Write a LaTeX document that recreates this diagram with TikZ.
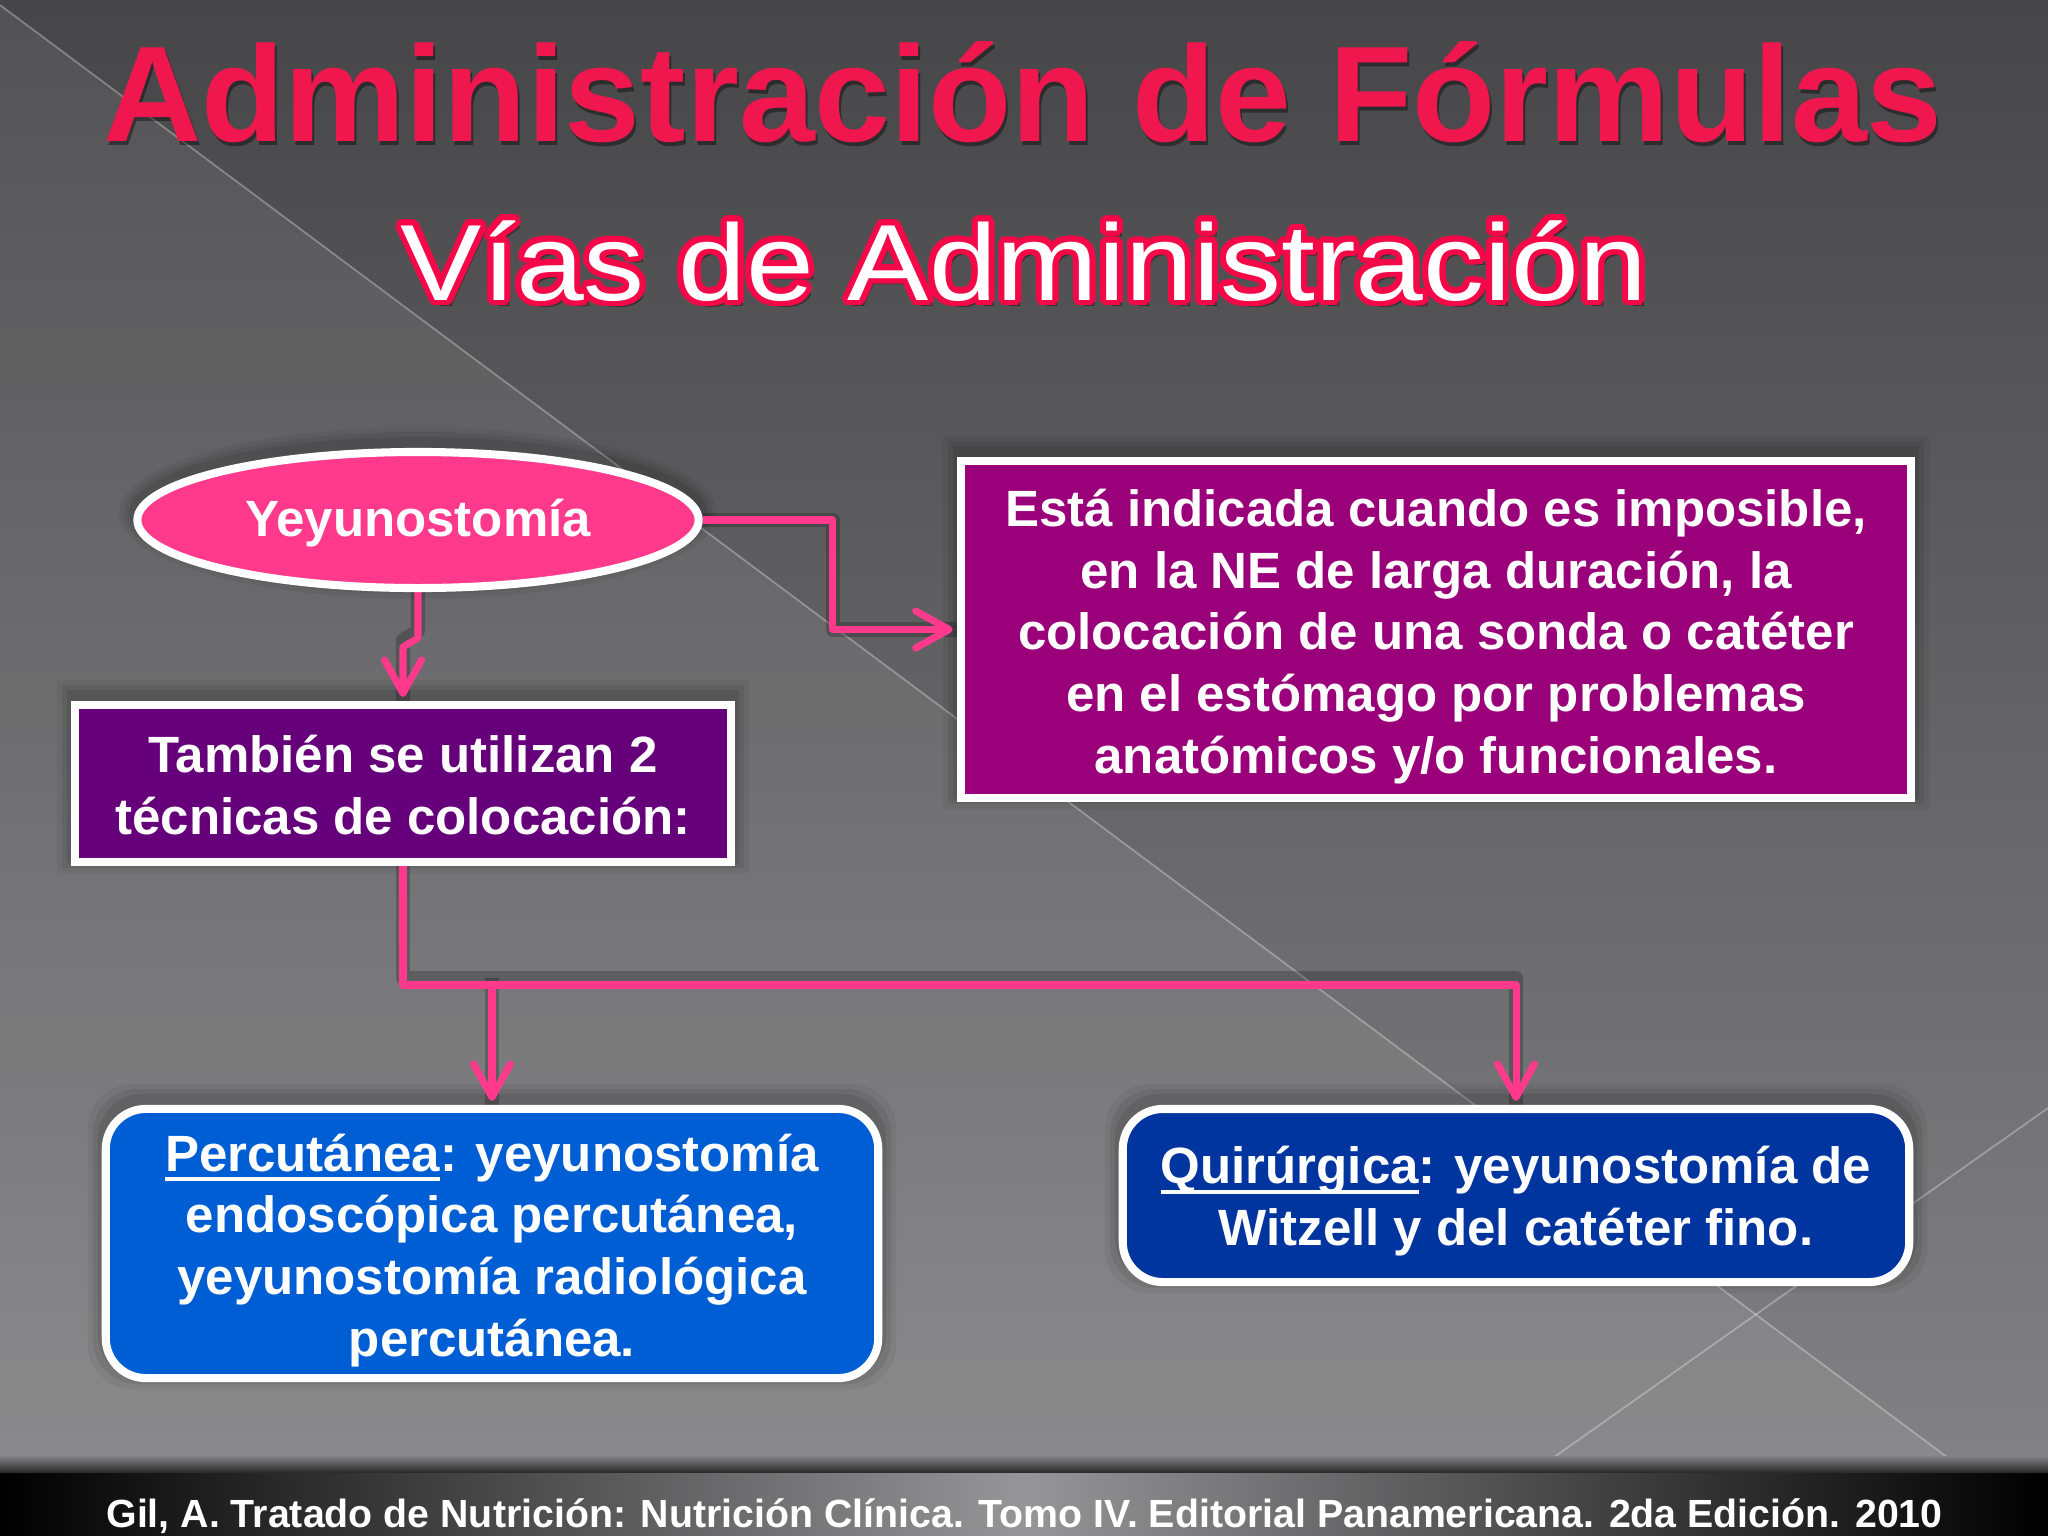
\documentclass[tikz,border=0pt]{standalone}
\usepackage{fontspec}
\setmainfont{Liberation Sans}
\usetikzlibrary{arrows.meta,shapes.geometric,calc}
\pgfdeclarelayer{bg}
\pgfdeclarelayer{mid}
\pgfsetlayers{bg,mid,main}
\definecolor{crim}{RGB}{240,22,78}
\definecolor{subred}{RGB}{245,8,72}
\definecolor{pinkc}{RGB}{255,58,140}
\definecolor{purpA}{RGB}{102,0,122}
\definecolor{magA}{RGB}{153,0,122}
\definecolor{blueA}{RGB}{0,94,212}
\definecolor{blueB}{RGB}{0,52,158}
\definecolor{bgtop}{RGB}{70,70,72}
\definecolor{bgbot}{RGB}{130,130,132}
\definecolor{footmid}{RGB}{150,150,152}
\newcommand\boxfont{\fontsize{14.5pt}{17.6pt}\selectfont\bfseries}
\newcommand\myul[1]{\setbox0\hbox{#1}\rlap{\rule[-0.2em]{\wd0}{0.08em}}\box0}
\newcommand\lowered[2]{\raisebox{-#1}[\height][\depth]{\begin{tabular}{@{}c@{}}#2\end{tabular}}}
\newcommand\subtext{\scalebox{1.125}[1]{\fontsize{30.8pt}{36pt}\selectfont V\'ias de Administraci\'on}}
\tikzset{
  conn/.style={draw=pinkc, line width=2pt, line join=round},
  arr/.style={conn, shorten >=0.04cm, -{Straight Barb[length=9.5pt,width=10.5pt,round]}},
  connshadow/.style={draw=black, opacity=0.22, line width=4pt, line join=round},
  whiteline/.style={draw=white, line width=2.3pt},
  sq/.style={rectangle, whiteline, inner sep=0pt, align=center, text=white, font=\boxfont},
  rbox/.style={sq, rounded corners=0.4cm},
}
\begin{document}
\begin{tikzpicture}[x=0.01cm, y=-0.01cm]
\useasboundingbox (0,0) rectangle (2048,1536);

% ---------- nodes ----------
\node[ellipse, whiteline, fill=pinkc, minimum width=5.61cm, minimum height=1.36cm,
      inner sep=0pt, text=white, font=\boxfont] (e) at (418,520) {\lowered{0.04cm}{Yeyunostom\'ia}};
\node[sq, fill=purpA, minimum width=6.56cm, minimum height=1.57cm] (tb) at (403,783.5)
  {\lowered{0.075cm}{Tambi\'en se utilizan 2\\t\'ecnicas de colocaci\'on:}};
\node[sq, fill=magA, minimum width=9.5cm, minimum height=3.37cm] (info) at (1436,629.5)
  {\lowered{0.08cm}{Est\'a indicada cuando es imposible,\\en la NE de larga duraci\'on, la\\colocaci\'on de una sonda o cat\'eter\\en el est\'omago por problemas\\anat\'omicos y/o funcionales.}};
\node[rbox, fill=blueA, minimum width=7.72cm, minimum height=2.69cm] (perc) at (492,1243.5)
  {\lowered{0.08cm}{\myul{Percut\'anea}: yeyunostom\'ia\\endosc\'opica percut\'anea,\\yeyunostom\'ia radiol\'ogica\\percut\'anea.}};
\node[rbox, fill=blueB, minimum width=7.86cm, minimum height=1.73cm] (quir) at (1516,1195.5)
  {\lowered{0.07cm}{\myul{Quir\'urgica}: yeyunostom\'ia de\\Witzell y del cat\'eter fino.}};

% ---------- titles ----------
\node[anchor=base, text=black, opacity=0.4] (titleshadow) at (1025,145)
  {\resizebox{18.38cm}{!}{\bfseries Administraci\'on de F\'ormulas}};
\node[anchor=base, text=crim] (title) at (1023,141)
  {\resizebox{18.38cm}{!}{\bfseries Administraci\'on de F\'ormulas}};
\node[anchor=base, text=black, opacity=0.35] (subshadow) at (1029,306) {\subtext};
\foreach \a in {0,20,...,340}
  \node[anchor=base, text=subred] at ($(1024,300)+(\a:6)$) {\subtext};
\node[anchor=base, text=white] (sub) at (1024,300) {\subtext};

% ---------- footer text ----------
\node[anchor=base, text=white] (foot) at (1024.5,1527)
  {\resizebox{18.35cm}{!}{\bfseries Gil, A. Tratado de Nutrici\'on: Nutrici\'on Cl\'inica. Tomo IV. Editorial Panamericana. 2da Edici\'on. 2010}};

% ---------- connectors and shadows ----------
\begin{pgfonlayer}{mid}
  \begin{scope}[shift={(-4,-7)}]
    \draw[connshadow] (e.east) -- ++(130,0) |- (info.west);
    \draw[connshadow] (e.south) -- (e.south |- 0,638) -- (tb.north |- 0,647) -- (tb.north);
    \draw[connshadow] (tb.south) |- (quir.north |- 0,985) -- (quir.north);
    \draw[connshadow] (perc.north |- 0,985) -- (perc.north);
  \end{scope}
  \foreach \s/\o in {14/0.05,9/0.07,4/0.09}{
    \fill[black, opacity=\o] ([shift={(-\s,-\s-7)}]tb.north west) rectangle ([shift={(\s,\s-7)}]tb.south east);
    \fill[black, opacity=\o] ([shift={(-\s,-\s-7)}]info.north west) rectangle ([shift={(\s,\s-7)}]info.south east);
    \fill[black, opacity=\o, rounded corners=0.45cm] ([shift={(-\s,-\s-7)}]perc.north west) rectangle ([shift={(\s,\s-7)}]perc.south east);
    \fill[black, opacity=\o, rounded corners=0.45cm] ([shift={(-\s,-\s-7)}]quir.north west) rectangle ([shift={(\s,\s-7)}]quir.south east);
    \fill[black, opacity=\o] ($(e.center)+(0,-7)$) ellipse [x radius=285+\s, y radius=72+\s];
  }
  \draw[arr] (e.east) -- ++(130,0) |- (info.west);
  \draw[arr] (e.south) -- (e.south |- 0,638) -- (tb.north |- 0,647) -- (tb.north);
  \draw[arr] (tb.south) |- (quir.north |- 0,985) -- (quir.north);
  \draw[arr] (perc.north |- 0,985) -- (perc.north);
\end{pgfonlayer}

% ---------- background ----------
\begin{pgfonlayer}{bg}
  \shade[top color=bgtop, bottom color=bgbot] (0,0) rectangle (2048,1472);
  \fill[white, opacity=0.07] (0,5) -- (1967,1472) -- (0,1472) -- cycle;
  \draw[white, opacity=0.3, line width=0.5pt] (0,5) -- (1967,1472);
  \draw[white, opacity=0.3, line width=0.5pt] (2048,1108) -- (1533,1472);
  \shade[top color=bgbot, bottom color=black!85] (0,1456) rectangle (2048,1473);
  \shade[left color=black, right color=black, middle color=footmid] (0,1473) rectangle (2048,1536);
\end{pgfonlayer}
\end{tikzpicture}
\end{document}
